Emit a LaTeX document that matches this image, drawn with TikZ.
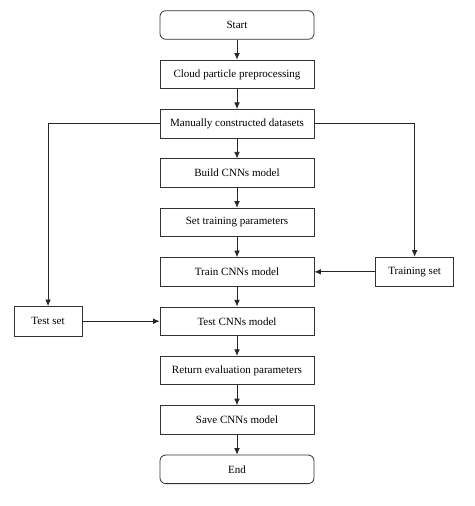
\documentclass[tikz,border=0pt]{standalone}
\usepackage{fontspec}
\setmainfont{Liberation Serif}
\usetikzlibrary{positioning,arrows.meta}
\tikzset{
    stepbox/.style={draw=black!80, line width=0.8pt, align=center, text centered, minimum width=5.39cm, minimum height=1.0cm, inner sep=1pt, font=\fontsize{11}{13}\selectfont},
    term/.style={stepbox, rounded corners=0.2cm},
    setbox/.style={stepbox, minimum width=2.5cm, minimum height=1.03cm},
    flow/.style={draw=black!85, line width=0.8pt, -{Latex[length=2.3mm,width=2mm]}}
}
\begin{document}
\begin{tikzpicture}[x=0.035cm, y=0.035cm, node distance=0.7cm]
\useasboundingbox (0,0) rectangle (474,-506);

\node[term] (start) at (237,-25) {Start};
\node[stepbox, below=of start] (prep) {Cloud particle preprocessing};
\node[stepbox, below=of prep] (data) {Manually constructed datasets};
\node[stepbox, below=of data] (build) {Build CNNs model};
\node[stepbox, below=of build] (param) {Set training parameters};
\node[stepbox, below=of param] (train) {Train CNNs model};
\node[stepbox, below=of train] (test) {Test CNNs model};
\node[stepbox, below=of test] (eval) {Return evaluation parameters};
\node[stepbox, below=of eval] (save) {Save CNNs model};
\node[term, below=of save] (end) {End};

\node[setbox, minimum width=2.73cm, right=2.13cm of train] (trainset) {Training set};
\node[setbox, minimum width=2.38cm, left=2.7cm of test] (testset) {Test set};

% main column
\foreach \a/\b in {start/prep, prep/data, data/build, build/param, param/train,
                   train/test, test/eval, eval/save, save/end}
    \draw[flow] (\a) -- (\b);

% side branches
\draw[flow] (data.east) -| (trainset.north);
\draw[flow] (data.west) -| (testset.north);
\draw[flow] (trainset) -- (train);
\draw[flow] (testset) -- (test);

\end{tikzpicture}
\end{document}
